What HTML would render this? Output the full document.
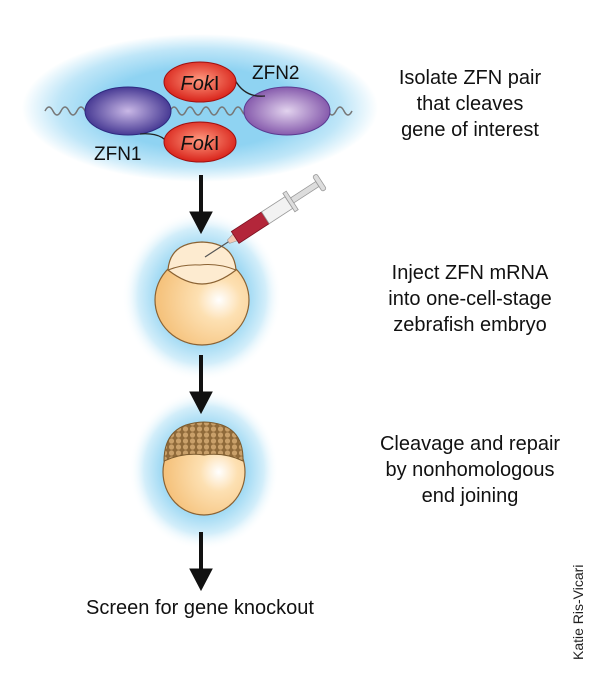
<!DOCTYPE html>
<html><head><style>body{margin:0;background:#fff}svg{display:block}</style></head><body>
<svg width="600" height="674" viewBox="0 0 600 674" xmlns="http://www.w3.org/2000/svg" font-family="Liberation Sans, sans-serif">
<defs>
<radialGradient id="glow" cx="50%" cy="50%" r="50%"><stop offset="0.55" stop-color="#8fd3f2"/><stop offset="0.8" stop-color="#bfe6f8"/><stop offset="1" stop-color="#fff"/></radialGradient>
<radialGradient id="glow2" cx="50%" cy="50%" r="50%"><stop offset="0.55" stop-color="#9dd8f3"/><stop offset="0.8" stop-color="#d3eefa"/><stop offset="1" stop-color="#fff" stop-opacity="0"/></radialGradient>
<radialGradient id="zf1" cx="50%" cy="50%" r="55%"><stop offset="0" stop-color="#c9b8e6"/><stop offset="1" stop-color="#3b2e8c"/></radialGradient>
<radialGradient id="zf2" cx="50%" cy="50%" r="55%"><stop offset="0" stop-color="#e2d3ee"/><stop offset="1" stop-color="#7d4fa6"/></radialGradient>
<radialGradient id="fok" cx="50%" cy="45%" r="55%"><stop offset="0" stop-color="#ff9a80"/><stop offset="1" stop-color="#d8231a"/></radialGradient>
<radialGradient id="egg" cx="68%" cy="50%" r="65%"><stop offset="0" stop-color="#fff"/><stop offset="0.35" stop-color="#fde0b2"/><stop offset="1" stop-color="#f5c27c"/></radialGradient>
<pattern id="cells" width="7" height="6" patternUnits="userSpaceOnUse"><rect width="7" height="6" fill="#8f6a3a"/><circle cx="3.5" cy="3" r="2.6" fill="#c9a06a"/></pattern>
</defs>
<ellipse cx="200" cy="108" rx="178" ry="74" fill="url(#glow)"/>
<path d="M45 111 q4 -8 8 0 t8 0 t8 0 t8 0 t8 0 t8 0 M170 111 q4 -8 8 0 t8 0 t8 0 t8 0 t8 0 t8 0 t8 0 t8 0 t8 0 t8 0 t8 0 t8 0 t8 0 M320 111 q4 -8 8 0 t8 0 t8 0 t8 0" fill="none" stroke="#777" stroke-width="1.5"/>
<ellipse cx="128" cy="111" rx="43" ry="24" fill="url(#zf1)" stroke="#2d2a80" stroke-width="1"/>
<ellipse cx="287" cy="111" rx="43" ry="24" fill="url(#zf2)" stroke="#5a3a90" stroke-width="1"/>
<path d="M235 80 q10 18 30 16" fill="none" stroke="#222" stroke-width="1.3"/>
<path d="M140 134 q25 -2 30 14" fill="none" stroke="#222" stroke-width="1.3"/>
<ellipse cx="200" cy="82" rx="36" ry="20" fill="url(#fok)" stroke="#a01010"/>
<ellipse cx="200" cy="142" rx="36" ry="20" fill="url(#fok)" stroke="#a01010"/>
<text x="200" y="90" font-size="20" text-anchor="middle" fill="#111"><tspan font-style="italic">Fok</tspan>I</text>
<text x="200" y="150" font-size="20" text-anchor="middle" fill="#111"><tspan font-style="italic">Fok</tspan>I</text>
<text x="252" y="79" font-size="19" fill="#111">ZFN2</text>
<text x="94" y="160" font-size="19" fill="#111">ZFN1</text>
<ellipse cx="202" cy="296" rx="80" ry="85" fill="url(#glow2)"/>
<ellipse cx="204" cy="470" rx="75" ry="80" fill="url(#glow2)"/>
<g fill="#111" stroke="#111">
<line x1="201" y1="175" x2="201" y2="215" stroke-width="4"/><path d="M190 212 L212 212 L201 233 Z"/>
<line x1="201" y1="355" x2="201" y2="395" stroke-width="4"/><path d="M190 392 L212 392 L201 413 Z"/>
<line x1="201" y1="532" x2="201" y2="572" stroke-width="4"/><path d="M190 569 L212 569 L201 590 Z"/>
</g>
<ellipse cx="202" cy="300" rx="47" ry="45" fill="url(#egg)" stroke="#8a6233" stroke-width="1.2"/>
<path d="M168 270 Q170 243 202 242 Q234 243 236 270 Q218 284 202 284 Q186 284 168 270 Z" fill="#fdebd0" stroke="#8a6233" stroke-width="1.2"/>
<path d="M168 270 q15 -6 32 -5 q18 -2 36 5" fill="none" stroke="#8a6233" stroke-width="1"/>
<ellipse cx="204" cy="472" rx="41" ry="43" fill="url(#egg)" stroke="#8a6233" stroke-width="1.2"/>
<path d="M164 461 Q164 423 204 422 Q244 423 243 461 Q224 452 204 455 Q184 452 164 461 Z" fill="url(#cells)" stroke="#7a5a2e"/>
<g transform="translate(205,257) rotate(-33)">
<line x1="0" y1="0" x2="28" y2="0" stroke="#555" stroke-width="1.2"/>
<path d="M28 -2 L36 -4 L36 4 L28 2Z" fill="#f3c9b5" stroke="#999" stroke-width="0.6"/>
<rect x="36" y="-7" width="36" height="14" fill="#b3263a" stroke="#7a1020" stroke-width="0.8"/>
<rect x="72" y="-7" width="28" height="14" fill="#f2f2f2" stroke="#999" stroke-width="0.8"/>
<rect x="100" y="-11" width="4" height="22" fill="#ddd" stroke="#999" stroke-width="0.8"/>
<rect x="104" y="-3" width="30" height="6" fill="#ddd" stroke="#999" stroke-width="0.8"/>
<rect x="134" y="-9" width="5" height="18" rx="2" fill="#ddd" stroke="#999" stroke-width="0.8"/>
</g>
<g font-size="20" fill="#111" text-anchor="middle">
<text x="470" y="84">Isolate ZFN pair</text>
<text x="470" y="110">that cleaves</text>
<text x="470" y="136">gene of interest</text>
<text x="470" y="279">Inject ZFN mRNA</text>
<text x="470" y="305">into one-cell-stage</text>
<text x="470" y="331">zebrafish embryo</text>
<text x="470" y="450">Cleavage and repair</text>
<text x="470" y="476">by nonhomologous</text>
<text x="470" y="502">end joining</text>
<text x="200" y="614">Screen for gene knockout</text>
</g>
<text transform="translate(583,660) rotate(-90)" font-size="14" fill="#222">Katie Ris-Vicari</text>
</svg>
</body></html>
